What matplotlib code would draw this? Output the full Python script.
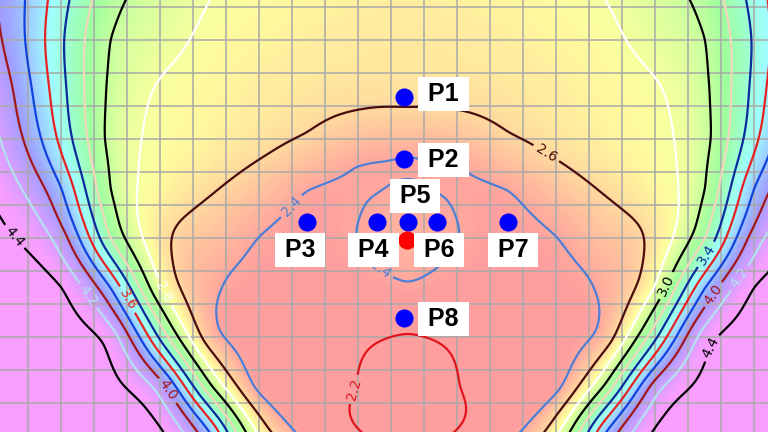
import numpy as np
import matplotlib
matplotlib.use("Agg")
import matplotlib.pyplot as plt
from matplotlib.colors import LinearSegmentedColormap, Normalize

# Field readings on the left half of the map (grid units, the map is mirrored
# about column 11.5). Rows run from the top of the picture downwards.
node_x = [-2.0, -0.5, 1.0, 2.5, 4.0, 5.5, 7.0, 8.5, 10.0, 11.5]
node_y = [-0.5, 1.0, 2.5, 4.0, 5.5, 7.0, 8.5, 10.0, 11.5, 13.0]
half_values = [
    [4.16, 3.90, 3.49, 3.09, 2.92, 2.81, 2.765, 2.735, 2.717, 2.71],
    [4.25, 3.92, 3.43, 3.00, 2.857, 2.768, 2.725, 2.695, 2.676, 2.67],
    [4.38, 4.01, 3.46, 2.967, 2.788, 2.733, 2.69, 2.66, 2.645, 2.645],
    [4.42, 4.106, 3.545, 2.947, 2.77, 2.71, 2.65, 2.579, 2.50, 2.477],
    [4.50, 4.263, 3.80, 3.00, 2.733, 2.619, 2.514, 2.405, 2.39, 2.42],
    [4.50, 4.41, 4.09, 3.20, 2.66, 2.507, 2.398, 2.365, 2.402, 2.44],
    [4.50, 4.48, 4.40, 3.79, 2.82, 2.437, 2.36, 2.33, 2.34, 2.385],
    [4.50, 4.50, 4.47, 4.30, 3.36, 2.50, 2.35, 2.29, 2.23, 2.19],
    [4.50, 4.50, 4.50, 4.45, 4.095, 3.055, 2.36, 2.27, 2.195, 2.13],
    [4.50, 4.50, 4.50, 4.50, 4.44, 3.84, 2.80, 2.35, 2.215, 2.165],
]
# extra readings along the big 2.4 arc and the thin trough inside it
ring_x = [11.5, 11.5, 10.5, 9.45, 9.95, 8.5]
ring_y = [4.55, 4.8, 5.05, 5.6, 4.85, 5.55]
ring_v = [2.40, 2.385, 2.385, 2.382, 2.40, 2.40]

# measurement points
point_names = ["P1", "P2", "P3", "P4", "P5", "P6", "P7", "P8"]
point_x = [11.385, 11.385, 8.445, 10.567, 11.506, 12.385, 14.536, 11.385]
point_y = [2.732, 4.608, 6.514, 6.514, 6.514, 6.514, 6.514, 9.419]
estimate_x = [11.476]
estimate_y = [7.059]

levels = [2.2, 2.4, 2.6, 2.8, 3.0, 3.2, 3.4, 3.6, 3.8, 4.0, 4.2, 4.4]
level_colors = ["#e0141e", "#4d7fd6", "#4a0c0c", "#ffffff", "#000000",
                "#f2d6bc", "#0a2a9e", "#e82222", "#1242dc", "#a3161a",
                "#b4e0f0", "#000000"]

# where the inline labels sit
label_spots = {
    2.2: [(9.84, 11.57)],
    2.4: [(7.93, 6.0), (10.6, 8.03)],
    2.6: [(15.66, 4.49)],
    2.8: [(4.08, 8.66)],
    3.0: [(19.29, 8.42)],
    3.4: [(20.47, 7.45)],
    3.6: [(2.99, 8.87)],
    4.0: [(4.2, 11.63), (20.65, 8.63)],
    4.2: [(1.93, 8.66), (21.38, 8.09)],
    4.4: [(-0.35, 6.9), (20.42, 10.2)],
}
label_offsets = {
    "P1": (28.4, 2.5), "P2": (28.4, -1.0), "P3": (-5.0, -20.2),
    "P4": (-2.5, -20.2), "P5": (5.0, 18.4), "P6": (1.4, -20.2),
    "P7": (3.6, -20.2), "P8": (28.4, -0.4),
}

# full set of readings (left half + its mirror)
xs, ys, vs = [], [], []
for yy, row in zip(node_y, half_values):
    for xx, vv in zip(node_x, row):
        xs.append(xx); ys.append(yy); vs.append(vv)
        if xx != 11.5:
            xs.append(23.0 - xx); ys.append(yy); vs.append(vv)
for xx, yy, vv in zip(ring_x, ring_y, ring_v):
    xs.append(xx); ys.append(yy); vs.append(vv)
    if xx != 11.5:
        xs.append(23.0 - xx); ys.append(yy); vs.append(vv)
xs, ys, vs = np.array(xs), np.array(ys), np.array(vs)


def tps_kernel(r):
    with np.errstate(divide="ignore", invalid="ignore"):
        k = r * r * np.log(r)
    return np.nan_to_num(k)


# thin-plate spline surface through the readings
n = len(xs)
dist = np.hypot(xs[:, None] - xs[None, :], ys[:, None] - ys[None, :])
Q = np.column_stack([np.ones(n), xs, ys])
A = np.zeros((n + 3, n + 3))
A[:n, :n] = tps_kernel(dist) + 1e-6 * np.eye(n)
A[:n, n:] = Q
A[n:, :n] = Q.T
coef = np.linalg.solve(A, np.concatenate([vs, np.zeros(3)]))
w, aff = coef[:n], coef[n:]

x0, x1 = -0.858, 22.415
y0, y1 = -0.203, 12.868
gx = np.linspace(x0 - 0.05, x1 + 0.05, 420)
gy = np.linspace(y0 - 0.05, y1 + 0.05, 240)
GX, GY = np.meshgrid(gx, gy)
GZ = np.empty_like(GX)
for i in range(len(gy)):
    r = np.hypot(GX[i][:, None] - xs[None, :], GY[i][:, None] - ys[None, :])
    GZ[i] = tps_kernel(r) @ w + aff[0] + aff[1] * GX[i] + aff[2] * GY[i]

base = plt.get_cmap("hsv")(np.linspace(0, 5 / 6, 256))[:, :3]
pastel = 1 - 0.38 * (1 - base)
cmap = LinearSegmentedColormap.from_list("pastel_hsv", pastel)
norm = Normalize(2.35, 4.35)

fig = plt.figure(figsize=(7.68, 4.32), dpi=100)
ax = fig.add_axes([0, 0, 1, 1])
ax.imshow(GZ, extent=(gx[0], gx[-1], gy[-1], gy[0]), origin="upper",
          cmap=cmap, norm=norm, interpolation="bilinear", aspect="auto",
          zorder=0)

for lev, col in zip(levels, level_colors):
    cs = ax.contour(GX, GY, GZ, levels=[lev], colors=[col],
                    linewidths=1.6, zorder=2)
    if lev in label_spots:
        ax.clabel(cs, manual=label_spots[lev], fmt="%.1f", fontsize=10,
                  inline=True, inline_spacing=4)

ax.scatter(point_x, point_y, s=170, color="#0000ff", zorder=4, linewidths=0)
ax.scatter(estimate_x, estimate_y, s=170, color="#ff0000", zorder=4,
           linewidths=0)
for name, px, py in zip(point_names, point_x, point_y):
    ax.annotate("\u2009" + name + "\u2009", (px, py),
                xytext=label_offsets[name], textcoords="offset points",
                ha="center", va="center", fontsize=18, fontweight="bold",
                family=["Liberation Sans", "DejaVu Sans"], color="black",
                bbox=dict(boxstyle="square,pad=0.2", fc="white", ec="none"),
                zorder=5)

ax.set_xticks(range(0, 23))
ax.set_yticks(range(0, 13))
ax.grid(True, color="#a9a9a9", linewidth=1.1)
ax.tick_params(length=0, labelbottom=False, labelleft=False)
for sp in ax.spines.values():
    sp.set_visible(False)
ax.set_xlim(x0, x1)
ax.set_ylim(y1, y0)

fig.savefig("out.png", dpi=100)
